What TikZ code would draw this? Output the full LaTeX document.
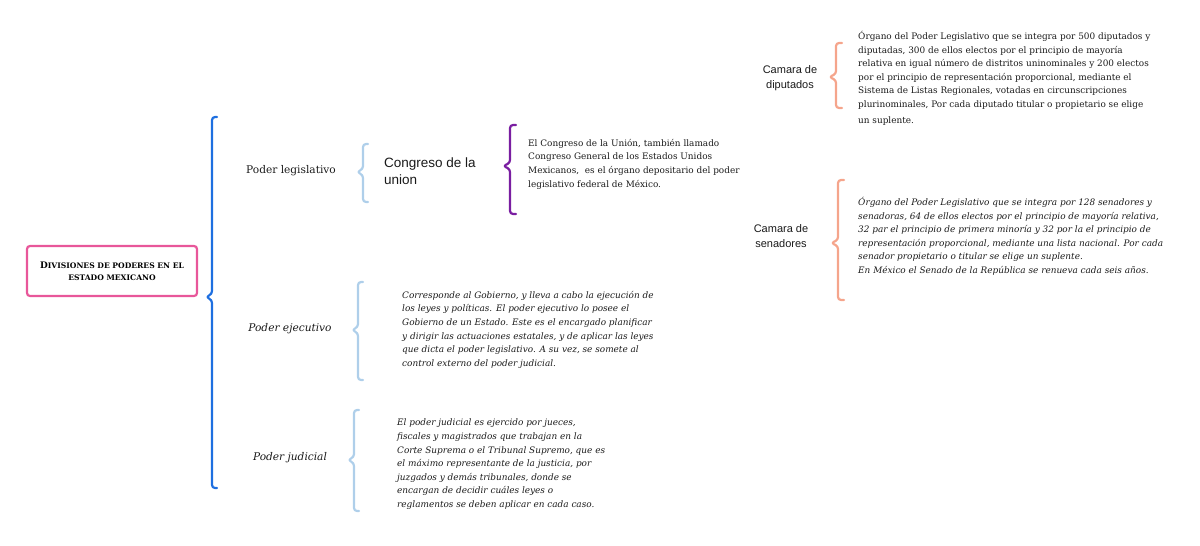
\documentclass[tikz,border=0pt]{standalone}
\usepackage{fontspec}
\setmainfont{DejaVu Serif}
\newfontfamily\arialf{Liberation Sans}
\definecolor{rootpink}{HTML}{E8579A}
\definecolor{mainblue}{HTML}{1E6FE0}
\definecolor{lightblue}{HTML}{AFCFEA}
\definecolor{brpurple}{HTML}{7A1EA1}
\definecolor{salmon}{HTML}{F5A58C}
\definecolor{txt}{HTML}{1A1A1A}
\tikzset{
  body/.style={anchor=north west, inner sep=0pt, align=left, font=\fontsize{8.9}{13.6}\selectfont, text=txt},
  bodyit/.style={body, font=\fontsize{8.9}{13.6}\selectfont\itshape},
  sanslbl/.style={inner sep=0pt, font=\arialf\fontsize{13.5}{17}\selectfont, text=txt, align=left},
  camlbl/.style={inner sep=0pt, font=\arialf\fontsize{11}{15}\selectfont, text=txt, align=center},
  serlbl/.style={inner sep=0pt, font=\fontsize{10.6}{14}\selectfont, text=txt},
  brc/.style={line width=2.2pt, rounded corners=3pt, line cap=round, line join=round},
}
% brace: x of stem, top y, tip y, bottom y, hook length, tip depth
\newcommand{\drawbrace}[7]{%
  \draw[brc,#7] (#1+#5,#2) -- (#1,#2) -- (#1,#3-3) -- (#1-#6,#3) -- (#1,#3+3) -- (#1,#4) -- (#1+#5,#4);
}
\begin{document}
\begin{tikzpicture}[x=1pt,y=-1pt]
\useasboundingbox (0,0) rectangle (1200,546);
% root
\node[draw=rootpink, line width=2.2pt, rounded corners=3pt, minimum width=170pt, minimum height=50pt,
      font=\bfseries\fontsize{7.6}{12}\selectfont, align=center, text=black] (root) at (112,271)
  {{\fontsize{9}{12}\selectfont D}IVISIONES DE PODERES EN EL\\ ESTADO MEXICANO};
% main brace
\drawbrace{212}{117}{297}{488}{5}{6}{mainblue}
% level 1
\node[serlbl] (leg) at (291,171) {Poder legislativo};
\node[serlbl, font=\fontsize{10.6}{14}\selectfont\itshape] (eje) at (290,329) {Poder ejecutivo};
\node[serlbl, font=\fontsize{10.6}{14}\selectfont\itshape] (jud) at (290,458) {Poder judicial};
% light blue braces
\drawbrace{363}{144}{172}{202}{5}{6}{lightblue}
\drawbrace{358}{282}{330}{380}{5}{6}{lightblue}
\drawbrace{354}{410}{460}{511}{5}{6}{lightblue}
% congreso
\node[sanslbl, anchor=west] (cong) at (384,171) {Congreso de la\\union};
\drawbrace{510}{125}{166}{214}{6}{7}{brpurple}
\node[body] (congt) at (528,139) {El Congreso de la Unión, también llamado\\Congreso General de los Estados Unidos\\Mexicanos,\ \ es el órgano depositario del poder\\legislativo federal de México.};
% ejecutivo text
\node[bodyit] (ejet) at (402,291) {Corresponde al Gobierno, y lleva a cabo la ejecución de\\los leyes y políticas. El poder ejecutivo lo posee el\\Gobierno de un Estado. Este es el encargado planificar\\y dirigir las actuaciones estatales, y de aplicar las leyes\\que dicta el poder legislativo. A su vez, se somete al\\control externo del poder judicial.};
% judicial text
\node[bodyit] (judt) at (397,419) {El poder judicial es ejercido por jueces,\\fiscales y magistrados que trabajan en la\\Corte Suprema o el Tribunal Supremo, que es\\el máximo representante de la justicia, por\\juzgados y demás tribunales, donde se\\encargan de decidir cuáles leyes o\\reglamentos se deben aplicar en cada caso.};
% camaras
\node[camlbl] (dip) at (790,78) {Camara de\\diputados};
\node[camlbl] (sen) at (781,236) {Camara de\\senadores};
\drawbrace{836}{43}{77}{108}{6}{7}{salmon}
\drawbrace{838}{180}{243}{300}{6}{7}{salmon}
\node[body] (dipt) at (858,31) {Órgano del Poder Legislativo que se integra por 500 diputados y\\diputadas, 300 de ellos electos por el principio de mayoría\\relativa en igual número de distritos uninominales y 200 electos\\por el principio de representación proporcional, mediante el\\Sistema de Listas Regionales, votadas en circunscripciones\\plurinominales, Por cada diputado titular o propietario se elige\\[2pt]un suplente.};
\node[bodyit] (sent) at (858,197) {Órgano del Poder Legislativo que se integra por 128 senadores y\\senadoras, 64 de ellos electos por el principio de mayoría relativa,\\32 par el principio de primera minoría y 32 por la el principio de\\representación proporcional, mediante una lista nacional. Por cada\\senador propietario o titular se elige un suplente.\\En México el Senado de la República se renueva cada seis años.};
\end{tikzpicture}
\end{document}
